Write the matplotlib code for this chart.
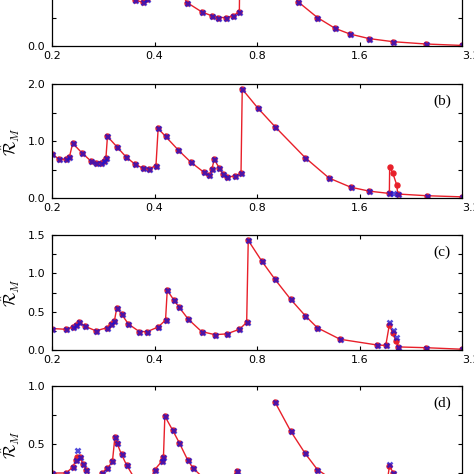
import matplotlib
matplotlib.use("Agg")
import matplotlib.pyplot as plt
from matplotlib.ticker import MultipleLocator, FixedLocator, FixedFormatter, NullLocator, FormatStrFormatter

plt.rcParams["mathtext.fontset"] = "cm"

nan = float("nan")

xticks = [0.2, 0.4, 0.8, 1.6, 3.2]
xtick_labels = ["0.2", "0.4", "0.8", "1.6", "3.2"]

# panel (a) - only the lower part is in the picture
a_x = [0.20, 0.22, 0.24, 0.26, 0.29, 0.31, 0.33, 0.351, 0.371, 0.38,
       0.40, 0.41, 0.44, 0.47, 0.499, 0.550, 0.589, 0.616, 0.649, 0.681,
       0.710, 0.716, 0.80, 0.90, 0.98, 1.054, 1.203, 1.356, 1.500, 1.707,
       2.012, 2.509, 3.2]
a_red = [1.4, 1.3, 1.7, 1.4, 1.2, 1.6, 1.1, 0.80, 0.77, 0.82,
         1.0, 1.7, 1.3, 1.0, 0.76, 0.60, 0.53, 0.50, 0.50, 0.53,
         0.60, 2.6, 2.2, 1.6, 1.1, 0.78, 0.50, 0.31, 0.21, 0.13,
         0.075, 0.035, 0.01]
a_blue = [1.4, 1.3, 1.7, 1.4, 1.2, 1.6, 1.1, 0.80, 0.77, 0.82,
          1.0, 1.7, 1.3, 1.0, 0.76, 0.60, 0.53, 0.50, 0.50, 0.53,
          0.60, 2.6, 2.2, 1.6, 1.1, 0.78, 0.50, 0.31, 0.21, 0.13,
          0.075, 0.035, 0.01]

# panel (b)
b_x_red = [0.200, 0.210, 0.220, 0.225, 0.230, 0.245, 0.260, 0.269, 0.278, 0.284,
           0.288, 0.291, 0.310, 0.330, 0.351, 0.371, 0.386, 0.404, 0.410, 0.431,
           0.470, 0.511, 0.559, 0.580, 0.590, 0.599, 0.619, 0.634, 0.652, 0.689,
           0.718, 0.724, 0.804, 0.904, 1.107, 1.302, 1.507, 1.710, 1.958, 1.962,
           2.003, 2.058, 2.072, 2.521, 3.2]
b_red = [0.77, 0.68, 0.68, 0.72, 0.96, 0.79, 0.65, 0.62, 0.62, 0.65,
         0.70, 1.08, 0.90, 0.72, 0.59, 0.52, 0.51, 0.57, 1.22, 1.08,
         0.84, 0.63, 0.45, 0.40, 0.51, 0.68, 0.53, 0.42, 0.36, 0.39,
         0.43, 1.91, 1.58, 1.25, 0.71, 0.35, 0.19, 0.12, 0.08, 0.55,
         0.44, 0.23, 0.07, 0.04, 0.02]
b_x_blue = [0.200, 0.210, 0.220, 0.225, 0.230, 0.245, 0.260, 0.269, 0.278, 0.284,
            0.288, 0.291, 0.310, 0.330, 0.351, 0.371, 0.386, 0.404, 0.410, 0.431,
            0.470, 0.511, 0.559, 0.580, 0.590, 0.599, 0.619, 0.634, 0.652, 0.689,
            0.718, 0.724, 0.804, 0.904, 1.107, 1.302, 1.507, 1.710, 1.958, 2.012,
            2.072, 2.521, 3.2]
b_blue = [0.77, 0.68, 0.68, 0.72, 0.96, 0.79, 0.65, 0.62, 0.62, 0.65,
          0.70, 1.08, 0.90, 0.72, 0.59, 0.52, 0.51, 0.57, 1.22, 1.08,
          0.84, 0.63, 0.45, 0.40, 0.51, 0.68, 0.53, 0.42, 0.36, 0.39,
          0.43, 1.91, 1.58, 1.25, 0.71, 0.35, 0.19, 0.12, 0.08, 0.08,
          0.07, 0.04, 0.02]

# panel (c)
c_x = [0.200, 0.220, 0.230, 0.235, 0.240, 0.250, 0.269, 0.290, 0.299, 0.305,
       0.310, 0.320, 0.335, 0.361, 0.381, 0.410, 0.431, 0.436, 0.456, 0.472,
       0.503, 0.550, 0.602, 0.652, 0.710, 0.746, 0.754, 0.826, 0.904, 1.005,
       1.107, 1.203, 1.403, 1.805, 1.911, 1.958, 2.003, 2.044, 2.081, 2.509,
       3.2]
c_red = [0.28, 0.27, 0.30, 0.33, 0.36, 0.31, 0.25, 0.29, 0.34, 0.38,
         0.55, 0.47, 0.34, 0.24, 0.24, 0.30, 0.39, 0.78, 0.65, 0.56,
         0.40, 0.24, 0.20, 0.21, 0.27, 0.36, 1.43, 1.16, 0.92, 0.66,
         0.45, 0.29, 0.14, 0.065, 0.06, 0.33, 0.22, 0.12, 0.04, 0.03,
         0.01]
c_blue = [0.28, 0.27, 0.30, 0.33, 0.36, 0.31, 0.25, 0.29, 0.34, 0.38,
          0.55, 0.47, 0.34, 0.24, 0.24, 0.30, 0.39, 0.78, 0.65, 0.56,
          0.40, 0.24, 0.20, 0.21, 0.27, 0.36, 1.43, 1.16, 0.92, 0.66,
          0.45, 0.29, 0.14, 0.065, 0.06, 0.36, 0.26, 0.17, 0.04, 0.03,
          0.01]

# panel (d) - only the upper part is in the picture
d_x = [0.200, 0.220, 0.230, 0.235, 0.237, 0.242, 0.246, 0.252, 0.264, 0.280,
       0.291, 0.301, 0.306, 0.310, 0.320, 0.331, 0.350, 0.370, 0.390, 0.401,
       0.420, 0.425, 0.429, 0.452, 0.473, 0.501, 0.520, 0.560, 0.620, 0.670,
       0.700, 0.720, 0.800, 0.904, 1.005, 1.107, 1.203, 1.400, 1.600, 1.800,
       1.911, 1.958, 2.012, 2.070, 2.500, 3.2]
d_red = [0.25, 0.25, 0.30, 0.36, 0.39, 0.39, 0.33, 0.28, 0.18, 0.25,
         0.29, 0.35, 0.56, 0.51, 0.41, 0.32, 0.20, 0.17, 0.20, 0.28,
         0.35, 0.39, 0.74, 0.62, 0.51, 0.36, 0.29, 0.20, 0.16, 0.20,
         0.27, 0.20, nan, 0.86, 0.61, 0.42, 0.28, 0.15, 0.10, 0.08,
         0.07, 0.31, 0.25, 0.10, 0.04, 0.02]
d_blue = [0.25, 0.25, 0.30, 0.36, 0.45, 0.39, 0.33, 0.28, 0.18, 0.25,
          0.29, 0.35, 0.56, 0.51, 0.41, 0.32, 0.20, 0.17, 0.20, 0.28,
          0.35, 0.39, 0.74, 0.62, 0.51, 0.36, 0.29, 0.20, 0.16, 0.20,
          0.27, 0.20, nan, 0.86, 0.61, 0.42, 0.28, 0.15, 0.10, 0.08,
          0.07, 0.33, 0.25, 0.10, 0.04, 0.02]

W = H = 474
fig = plt.figure(figsize=(W / 100, H / 100), dpi=100)


def make_panel(top, bottom, ymax, major, minor, label):
    # top/bottom in pixels from the top of the picture
    ax = fig.add_axes([52 / W, 1 - bottom / H, 410 / W, (bottom - top) / H])
    ax.set_xscale("log", base=2)
    ax.set_xlim(0.2, 3.2)
    ax.set_ylim(0, ymax)
    ax.xaxis.set_major_locator(FixedLocator(xticks))
    ax.xaxis.set_major_formatter(FixedFormatter(xtick_labels))
    ax.xaxis.set_minor_locator(NullLocator())
    ax.yaxis.set_major_locator(MultipleLocator(major))
    ax.yaxis.set_minor_locator(MultipleLocator(minor))
    ax.yaxis.set_major_formatter(FormatStrFormatter("%.1f"))
    ax.tick_params(which="both", direction="in", top=True, right=True,
                   length=3, width=0.8, labelsize=8)
    ax.tick_params(axis="y", pad=5)
    for s in ax.spines.values():
        s.set_linewidth(0.9)
    if label:
        ax.set_ylabel(r"$\hat{\mathcal{R}}_M$", fontsize=12)
        ax.yaxis.set_label_coords(-0.072, 0.5)
        ax.text(0.951, 0.85, label, transform=ax.transAxes, ha="center",
                va="center", fontsize=11, family="Liberation Serif")
    return ax


def draw(ax, xr, yr, xb, yb):
    ax.plot(xr, yr, "-o", color="#e8202a", lw=1.0, ms=3.6, mec="#e8202a")
    ax.plot(xb, yb, "x", color="#1a10d0", ms=3.6, mew=1.8, alpha=0.75)


ax_a = make_panel(-68, 46, 2.0, 1.0, 0.5, None)
draw(ax_a, a_x, a_red, a_x, a_blue)

ax_b = make_panel(84, 198, 2.0, 1.0, 0.5, "(b)")
draw(ax_b, b_x_red, b_red, b_x_blue, b_blue)

ax_c = make_panel(235, 350, 1.5, 0.5, 0.25, "(c)")
draw(ax_c, c_x, c_red, c_x, c_blue)

ax_d = make_panel(386, 502, 1.0, 0.5, 0.25, "(d)")
draw(ax_d, d_x, d_red, d_x, d_blue)

# the last x label starts at the right edge, as in the original figure
fig.canvas.draw()
for ax in [ax_a, ax_b, ax_c, ax_d]:
    ax.get_xticklabels()[-1].set_horizontalalignment("left")

fig.savefig("out.png", dpi=100)
